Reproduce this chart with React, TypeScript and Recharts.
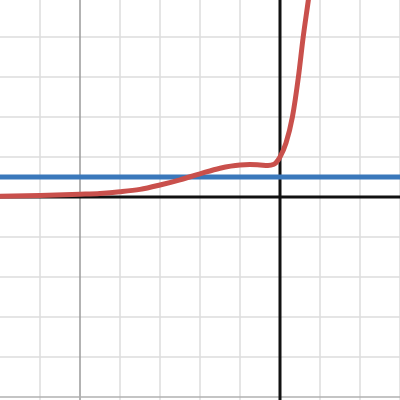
import { ComposedChart, Line, XAxis, YAxis, ReferenceLine } from 'recharts';

// red curve (x, y in graph units)
const curveX = [-7.5, -7, -6, -5, -4.5, -4, -3.5, -3, -2.5, -2, -1.5, -1, -0.75, -0.5, -0.3, -0.15, -0.05, 0, 0.15, 0.31, 0.46, 0.58, 0.71, 0.8];
const curveY = [0.015, 0.02, 0.04, 0.07, 0.09, 0.13, 0.19, 0.3, 0.43, 0.58, 0.72, 0.8, 0.81, 0.8, 0.79, 0.82, 0.92, 1.0, 1.35, 2.0, 3.0, 4.0, 4.93, 5.6];

// horizontal blue line
const levelY = 0.5;
const levelX = [-7.5, 3.5];

// grid
const minorX = [-6, -4, -3, -2, -1, 1, 2, 3];
const majorX = [-5];
const minorY = [-4, -3, -2, -1, 1, 2, 3, 4];
const majorY = [-5];

const xDomain: [number, number] = [-7, 3];
const yDomain: [number, number] = [-5.075, 4.925];

const data = curveX.map((x, i) => ({ x, y: curveY[i] }));
const levelData = levelX.map((x) => ({ x, level: levelY }));

export default function App() {
  return (
    <div style={{ position: 'fixed', left: 0, top: 0, width: 400, height: 400, background: '#fff' }}>
      <ComposedChart width={400} height={400} margin={{ top: 0, right: 0, bottom: 0, left: 0 }}>
        <XAxis type="number" dataKey="x" domain={xDomain} allowDataOverflow hide />
        <YAxis type="number" domain={yDomain} allowDataOverflow hide />
        {minorX.map((v) => (
          <ReferenceLine key={`mx${v}`} x={v} stroke="#dcdcdc" strokeWidth={1.5} />
        ))}
        {minorY.map((v) => (
          <ReferenceLine key={`my${v}`} y={v} stroke="#dcdcdc" strokeWidth={1.5} />
        ))}
        {majorX.map((v) => (
          <ReferenceLine key={`Mx${v}`} x={v} stroke="#9a9a9a" strokeWidth={1.5} />
        ))}
        {majorY.map((v) => (
          <ReferenceLine key={`My${v}`} y={v} stroke="#b0b0b0" strokeWidth={1.5} />
        ))}
        <ReferenceLine x={0} stroke="#111" strokeWidth={3} />
        <ReferenceLine y={0} stroke="#111" strokeWidth={3} />
        <Line
          data={levelData}
          dataKey="level"
          type="linear"
          stroke="#3a78bb"
          strokeWidth={5}
          dot={false}
          activeDot={false}
          isAnimationActive={false}
        />
        <Line
          data={data}
          dataKey="y"
          type="monotone"
          stroke="#c9504c"
          strokeWidth={5}
          dot={false}
          activeDot={false}
          isAnimationActive={false}
        />
      </ComposedChart>
    </div>
  );
}
